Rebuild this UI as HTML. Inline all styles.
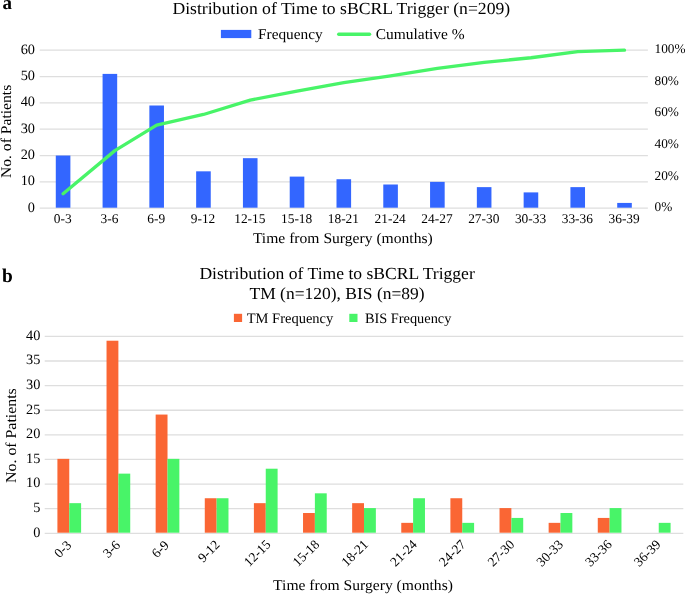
<!DOCTYPE html>
<html><head><meta charset="utf-8"><title>Distribution of Time to sBCRL Trigger</title>
<style>html,body{margin:0;padding:0;background:#fff}svg{display:block}text{font-family:"Liberation Serif",serif;fill:#000;text-rendering:geometricPrecision}</style></head><body>
<svg width="685" height="594" viewBox="0 0 685 594">
<rect width="685" height="594" fill="#fff"/>
<line x1="39.7" x2="647.9" y1="208.20" y2="208.20" stroke="#DEDEDE" stroke-width="1.3"/>
<line x1="39.7" x2="647.9" y1="181.87" y2="181.87" stroke="#DEDEDE" stroke-width="1.3"/>
<line x1="39.7" x2="647.9" y1="155.53" y2="155.53" stroke="#DEDEDE" stroke-width="1.3"/>
<line x1="39.7" x2="647.9" y1="129.20" y2="129.20" stroke="#DEDEDE" stroke-width="1.3"/>
<line x1="39.7" x2="647.9" y1="102.87" y2="102.87" stroke="#DEDEDE" stroke-width="1.3"/>
<line x1="39.7" x2="647.9" y1="76.53" y2="76.53" stroke="#DEDEDE" stroke-width="1.3"/>
<line x1="39.7" x2="647.9" y1="50.20" y2="50.20" stroke="#DEDEDE" stroke-width="1.3"/>
<rect x="55.79" y="155.53" width="14.6" height="52.17" fill="#3366FF"/>
<rect x="102.58" y="73.90" width="14.6" height="133.80" fill="#3366FF"/>
<rect x="149.36" y="105.50" width="14.6" height="102.20" fill="#3366FF"/>
<rect x="196.15" y="171.33" width="14.6" height="36.37" fill="#3366FF"/>
<rect x="242.93" y="158.17" width="14.6" height="49.53" fill="#3366FF"/>
<rect x="289.72" y="176.60" width="14.6" height="31.10" fill="#3366FF"/>
<rect x="336.50" y="179.23" width="14.6" height="28.47" fill="#3366FF"/>
<rect x="383.28" y="184.50" width="14.6" height="23.20" fill="#3366FF"/>
<rect x="430.07" y="181.87" width="14.6" height="25.83" fill="#3366FF"/>
<rect x="476.85" y="187.13" width="14.6" height="20.57" fill="#3366FF"/>
<rect x="523.64" y="192.40" width="14.6" height="15.30" fill="#3366FF"/>
<rect x="570.42" y="187.13" width="14.6" height="20.57" fill="#3366FF"/>
<rect x="617.21" y="202.93" width="14.6" height="4.77" fill="#3366FF"/>
<polyline points="63.09,193.68 114.88,150.63 156.66,125.04 203.45,114.46 250.23,100.09 297.02,91.02 343.80,82.71 390.58,75.90 437.37,68.34 484.15,62.30 530.94,57.76 577.72,51.71 624.51,50.20" fill="none" stroke="#48F468" stroke-width="3.3" stroke-linecap="round" stroke-linejoin="round"/>
<text x="35.0" y="211.50" font-size="14.3" text-anchor="end">0</text>
<text x="35.0" y="185.17" font-size="14.3" text-anchor="end">10</text>
<text x="35.0" y="158.83" font-size="14.3" text-anchor="end">20</text>
<text x="35.0" y="132.50" font-size="14.3" text-anchor="end">30</text>
<text x="35.0" y="106.17" font-size="14.3" text-anchor="end">40</text>
<text x="35.0" y="79.83" font-size="14.3" text-anchor="end">50</text>
<text x="35.0" y="53.50" font-size="14.3" text-anchor="end">60</text>
<text x="654.5" y="211.10" font-size="13.3">0%</text>
<text x="654.5" y="179.50" font-size="13.3">20%</text>
<text x="654.5" y="147.90" font-size="13.3">40%</text>
<text x="654.5" y="116.30" font-size="13.3">60%</text>
<text x="654.5" y="84.70" font-size="13.3">80%</text>
<text x="654.5" y="53.10" font-size="13.3">100%</text>
<text x="62.69" y="223" font-size="13.4" text-anchor="middle">0-3</text>
<text x="109.48" y="223" font-size="13.4" text-anchor="middle">3-6</text>
<text x="156.26" y="223" font-size="13.4" text-anchor="middle">6-9</text>
<text x="203.05" y="223" font-size="13.4" text-anchor="middle">9-12</text>
<text x="249.83" y="223" font-size="13.4" text-anchor="middle">12-15</text>
<text x="296.62" y="223" font-size="13.4" text-anchor="middle">15-18</text>
<text x="343.40" y="223" font-size="13.4" text-anchor="middle">18-21</text>
<text x="390.18" y="223" font-size="13.4" text-anchor="middle">21-24</text>
<text x="436.97" y="223" font-size="13.4" text-anchor="middle">24-27</text>
<text x="483.75" y="223" font-size="13.4" text-anchor="middle">27-30</text>
<text x="530.54" y="223" font-size="13.4" text-anchor="middle">30-33</text>
<text x="577.32" y="223" font-size="13.4" text-anchor="middle">33-36</text>
<text x="624.11" y="223" font-size="13.4" text-anchor="middle">36-39</text>
<text transform="translate(341.3,13.9) scale(1.042,1)" font-size="16.94" text-anchor="middle">Distribution of Time to sBCRL Trigger (n=209)</text>
<text transform="translate(342.8,243.4) scale(1.05,1)" font-size="14.86" text-anchor="middle">Time from Surgery (months)</text>
<text transform="translate(11.1,131.4) rotate(-90) scale(1.05,1)" font-size="14.90" text-anchor="middle">No. of Patients</text>
<text x="2.5" y="8.5" font-size="19" font-weight="bold">a</text>
<rect x="220.9" y="29.9" width="30.4" height="8.2" fill="#3366FF"/>
<text transform="translate(258.0,38.5) scale(1.03,1)" font-size="14.90">Frequency</text>
<line x1="338.7" x2="369.6" y1="34.25" y2="34.25" stroke="#48F468" stroke-width="3.3" stroke-linecap="round"/>
<text transform="translate(375.8,38.5) scale(1.03,1)" font-size="15.00">Cumulative %</text>
<line x1="44.7" x2="683.3" y1="533.30" y2="533.30" stroke="#DEDEDE" stroke-width="1.3"/>
<text x="40.4" y="536.60" font-size="14.3" text-anchor="end">0</text>
<line x1="44.7" x2="683.3" y1="508.69" y2="508.69" stroke="#DEDEDE" stroke-width="1.3"/>
<text x="40.4" y="511.99" font-size="14.3" text-anchor="end">5</text>
<line x1="44.7" x2="683.3" y1="484.07" y2="484.07" stroke="#DEDEDE" stroke-width="1.3"/>
<text x="40.4" y="487.37" font-size="14.3" text-anchor="end">10</text>
<line x1="44.7" x2="683.3" y1="459.46" y2="459.46" stroke="#DEDEDE" stroke-width="1.3"/>
<text x="40.4" y="462.76" font-size="14.3" text-anchor="end">15</text>
<line x1="44.7" x2="683.3" y1="434.85" y2="434.85" stroke="#DEDEDE" stroke-width="1.3"/>
<text x="40.4" y="438.15" font-size="14.3" text-anchor="end">20</text>
<line x1="44.7" x2="683.3" y1="410.24" y2="410.24" stroke="#DEDEDE" stroke-width="1.3"/>
<text x="40.4" y="413.54" font-size="14.3" text-anchor="end">25</text>
<line x1="44.7" x2="683.3" y1="385.62" y2="385.62" stroke="#DEDEDE" stroke-width="1.3"/>
<text x="40.4" y="388.93" font-size="14.3" text-anchor="end">30</text>
<line x1="44.7" x2="683.3" y1="361.01" y2="361.01" stroke="#DEDEDE" stroke-width="1.3"/>
<text x="40.4" y="364.31" font-size="14.3" text-anchor="end">35</text>
<line x1="44.7" x2="683.3" y1="336.40" y2="336.40" stroke="#DEDEDE" stroke-width="1.3"/>
<text x="40.4" y="339.70" font-size="14.3" text-anchor="end">40</text>
<rect x="57.41" y="458.86" width="11.85" height="73.84" fill="#FA6634"/>
<rect x="69.26" y="503.16" width="11.85" height="29.53" fill="#48F468"/>
<text transform="translate(72.25,545.90) rotate(-45)" font-size="13.4" text-anchor="end">0-3</text>
<rect x="106.53" y="340.72" width="11.85" height="191.98" fill="#FA6634"/>
<rect x="118.38" y="473.63" width="11.85" height="59.07" fill="#48F468"/>
<text transform="translate(121.00,545.90) rotate(-45)" font-size="13.4" text-anchor="end">3-6</text>
<rect x="155.66" y="414.56" width="11.85" height="118.14" fill="#FA6634"/>
<rect x="167.51" y="458.86" width="11.85" height="73.84" fill="#48F468"/>
<text transform="translate(169.75,545.90) rotate(-45)" font-size="13.4" text-anchor="end">6-9</text>
<rect x="204.78" y="498.24" width="11.85" height="34.46" fill="#FA6634"/>
<rect x="216.63" y="498.24" width="11.85" height="34.46" fill="#48F468"/>
<text transform="translate(220.57,545.57) rotate(-45)" font-size="13.4" text-anchor="end">9-12</text>
<rect x="253.90" y="503.16" width="11.85" height="29.53" fill="#FA6634"/>
<rect x="265.75" y="468.71" width="11.85" height="63.99" fill="#48F468"/>
<text transform="translate(271.40,545.23) rotate(-45)" font-size="13.4" text-anchor="end">12-15</text>
<rect x="303.03" y="513.01" width="11.85" height="19.69" fill="#FA6634"/>
<rect x="314.88" y="493.32" width="11.85" height="39.38" fill="#48F468"/>
<text transform="translate(320.14,545.23) rotate(-45)" font-size="13.4" text-anchor="end">15-18</text>
<rect x="352.15" y="503.16" width="11.85" height="29.53" fill="#FA6634"/>
<rect x="364.00" y="508.09" width="11.85" height="24.61" fill="#48F468"/>
<text transform="translate(368.89,545.23) rotate(-45)" font-size="13.4" text-anchor="end">18-21</text>
<rect x="401.27" y="522.85" width="11.85" height="9.84" fill="#FA6634"/>
<rect x="413.12" y="498.24" width="11.85" height="34.46" fill="#48F468"/>
<text transform="translate(417.64,545.23) rotate(-45)" font-size="13.4" text-anchor="end">21-24</text>
<rect x="450.40" y="498.24" width="11.85" height="34.46" fill="#FA6634"/>
<rect x="462.25" y="522.85" width="11.85" height="9.84" fill="#48F468"/>
<text transform="translate(466.39,545.23) rotate(-45)" font-size="13.4" text-anchor="end">24-27</text>
<rect x="499.52" y="508.09" width="11.85" height="24.61" fill="#FA6634"/>
<rect x="511.37" y="517.93" width="11.85" height="14.77" fill="#48F468"/>
<text transform="translate(515.14,545.23) rotate(-45)" font-size="13.4" text-anchor="end">27-30</text>
<rect x="548.64" y="522.85" width="11.85" height="9.84" fill="#FA6634"/>
<rect x="560.49" y="513.01" width="11.85" height="19.69" fill="#48F468"/>
<text transform="translate(563.88,545.23) rotate(-45)" font-size="13.4" text-anchor="end">30-33</text>
<rect x="597.77" y="517.93" width="11.85" height="14.77" fill="#FA6634"/>
<rect x="609.62" y="508.09" width="11.85" height="24.61" fill="#48F468"/>
<text transform="translate(612.63,545.23) rotate(-45)" font-size="13.4" text-anchor="end">33-36</text>
<rect x="658.74" y="522.85" width="11.85" height="9.84" fill="#48F468"/>
<text transform="translate(661.38,545.23) rotate(-45)" font-size="13.4" text-anchor="end">36-39</text>
<text transform="translate(337.1,278.7) scale(1.042,1)" font-size="16.89" text-anchor="middle">Distribution of Time to sBCRL Trigger</text>
<text transform="translate(337.1,299.3) scale(1.042,1)" font-size="16.79" text-anchor="middle">TM (n=120), BIS (n=89)</text>
<text transform="translate(363.0,590.4) scale(1.05,1)" font-size="14.86" text-anchor="middle">Time from Surgery (months)</text>
<text transform="translate(15.5,435.6) rotate(-90) scale(1.05,1)" font-size="15.10" text-anchor="middle">No. of Patients</text>
<text x="2.0" y="281.9" font-size="19.4" font-weight="bold">b</text>
<rect x="233.9" y="313.8" width="8.2" height="8.2" fill="#FA6634"/>
<text x="246.7" y="323" font-size="14.5">TM Frequency</text>
<rect x="349.3" y="313.8" width="8.2" height="8.2" fill="#48F468"/>
<text x="364.9" y="323" font-size="14.35">BIS Frequency</text>
</svg></body></html>
